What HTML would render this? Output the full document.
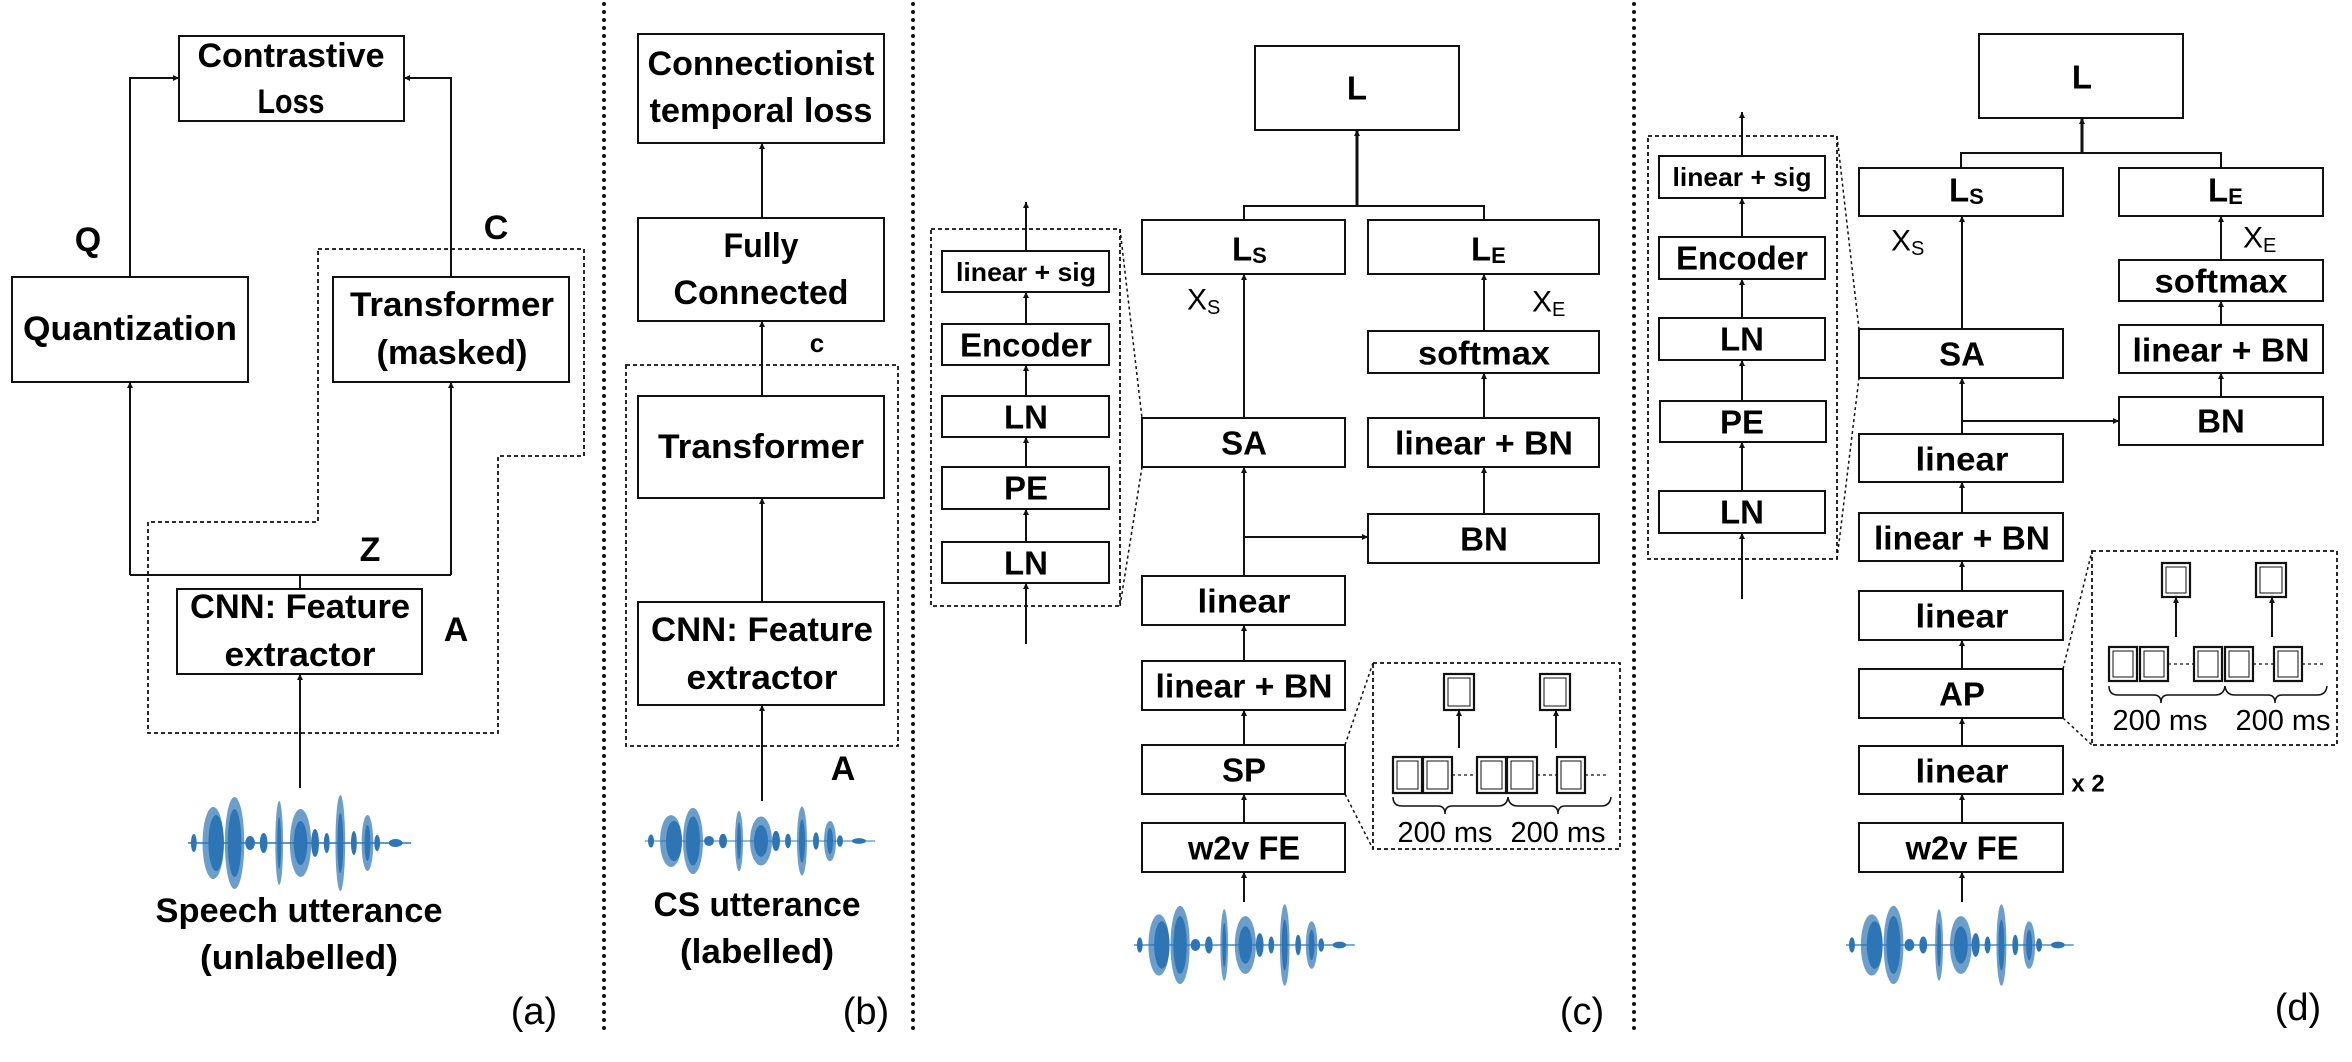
<!DOCTYPE html>
<html><head><meta charset="utf-8"><style>
html,body{margin:0;padding:0;background:#fff}
svg{display:block}
text{font-family:"Liberation Sans",sans-serif;fill:#000}
.b{font-weight:bold}
</style></head><body>
<svg width="2352" height="1062" viewBox="0 0 2352 1062" xmlns="http://www.w3.org/2000/svg">
<defs>
<marker id="ar" viewBox="0 0 10 10" refX="10" refY="5" markerWidth="6" markerHeight="6" orient="auto-start-reverse" markerUnits="userSpaceOnUse">
<path d="M0,0 L10,5 L0,10 z" fill="#111"/></marker>
<g id="wave">
<line x1="0" y1="0" x2="230" y2="0" stroke="#2E75B6" stroke-width="1.5"/>
<g fill="#2E75B6">
<ellipse cx="6" cy="0" rx="3" ry="9"/>
<ellipse cx="26" cy="0" rx="11" ry="36" opacity="0.7"/>
<ellipse cx="29" cy="0" rx="8" ry="28"/>
<ellipse cx="48" cy="0" rx="10" ry="46" opacity="0.7"/>
<ellipse cx="48" cy="0" rx="7" ry="34"/>
<ellipse cx="64" cy="0" rx="5" ry="7"/>
<ellipse cx="78" cy="0" rx="4" ry="10"/>
<ellipse cx="94" cy="0" rx="4" ry="42" opacity="0.7"/>
<ellipse cx="94" cy="0" rx="2" ry="26"/>
<ellipse cx="116" cy="0" rx="11" ry="34" opacity="0.7"/>
<ellipse cx="116" cy="0" rx="7" ry="22"/>
<ellipse cx="131" cy="0" rx="4" ry="14"/>
<ellipse cx="143" cy="0" rx="3" ry="10"/>
<ellipse cx="157" cy="0" rx="5" ry="48" opacity="0.7"/>
<ellipse cx="157" cy="0" rx="3" ry="30"/>
<ellipse cx="171" cy="0" rx="3" ry="12"/>
<ellipse cx="185" cy="0" rx="6" ry="28" opacity="0.7"/>
<ellipse cx="185" cy="0" rx="3" ry="18"/>
<ellipse cx="195" cy="0" rx="3" ry="8"/>
<ellipse cx="214" cy="0" rx="7" ry="4"/>
</g></g>
</defs>

<g stroke="#111" stroke-width="2" fill="none">
<line x1="604" y1="4" x2="604" y2="1035" stroke-width="4" stroke-dasharray="0 8" stroke-linecap="round"/>
<line x1="913" y1="4" x2="913" y2="1035" stroke-width="4" stroke-dasharray="0 8" stroke-linecap="round"/>
<line x1="1634" y1="4" x2="1634" y2="1035" stroke-width="4" stroke-dasharray="0 8" stroke-linecap="round"/>

<!-- Panel a -->
<rect x="179" y="36" width="225" height="85"/>
<rect x="12" y="277" width="236" height="105"/>
<rect x="333" y="277" width="236" height="105"/>
<rect x="177" y="589" width="245" height="85"/>
<polyline points="130,277 130,78 179,78" marker-end="url(#ar)"/>
<polyline points="451,277 451,78 404,78" marker-end="url(#ar)"/>
<polyline points="130,575 451,575"/>
<line x1="300" y1="589" x2="300" y2="575"/>
<line x1="130" y1="575" x2="130" y2="382" marker-end="url(#ar)"/>
<line x1="451" y1="575" x2="451" y2="382" marker-end="url(#ar)"/>
<line x1="300" y1="788" x2="300" y2="674" marker-end="url(#ar)"/>
<polygon points="318,249 584,249 584,456 498,456 498,733 148,733 148,522 318,522" stroke-dasharray="4 3" stroke-width="1.8"/>

<!-- Panel b -->
<rect x="638" y="34" width="246" height="109"/>
<rect x="638" y="218" width="246" height="103"/>
<rect x="638" y="396" width="246" height="102"/>
<rect x="638" y="602" width="246" height="103"/>
<rect x="626" y="365" width="272" height="381" stroke-dasharray="4 3" stroke-width="1.8"/>
<line x1="762" y1="218" x2="762" y2="143" marker-end="url(#ar)"/>
<line x1="762" y1="396" x2="762" y2="321" marker-end="url(#ar)"/>
<line x1="762" y1="602" x2="762" y2="498" marker-end="url(#ar)"/>
<line x1="762" y1="801" x2="762" y2="705" marker-end="url(#ar)"/>

<!-- Panel c -->
<rect x="1255" y="46" width="204" height="84"/>
<line x1="1357" y1="206" x2="1357" y2="130" stroke-width="3" marker-end="url(#ar)"/>
<polyline points="1244,220 1244,206 1484,206 1484,220"/>
<rect x="1142" y="220" width="203" height="54"/>
<rect x="1368" y="220" width="231" height="54"/>
<rect x="1142" y="418" width="203" height="49"/>
<rect x="1142" y="576" width="203" height="49"/>
<rect x="1142" y="661" width="203" height="49"/>
<rect x="1142" y="745" width="203" height="49"/>
<rect x="1142" y="823" width="203" height="49"/>
<rect x="1368" y="331" width="231" height="42"/>
<rect x="1368" y="418" width="231" height="49"/>
<rect x="1368" y="514" width="231" height="49"/>
<line x1="1244" y1="418" x2="1244" y2="274" marker-end="url(#ar)"/>
<line x1="1244" y1="576" x2="1244" y2="467" marker-end="url(#ar)"/>
<line x1="1244" y1="537" x2="1368" y2="537" marker-end="url(#ar)"/>
<line x1="1244" y1="661" x2="1244" y2="625" marker-end="url(#ar)"/>
<line x1="1244" y1="745" x2="1244" y2="710" marker-end="url(#ar)"/>
<line x1="1244" y1="823" x2="1244" y2="794" marker-end="url(#ar)"/>
<line x1="1244" y1="902" x2="1244" y2="872" marker-end="url(#ar)"/>
<line x1="1484" y1="331" x2="1484" y2="274" marker-end="url(#ar)"/>
<line x1="1484" y1="418" x2="1484" y2="373" marker-end="url(#ar)"/>
<line x1="1484" y1="514" x2="1484" y2="467" marker-end="url(#ar)"/>
<rect x="931" y="229" width="189" height="377" stroke-dasharray="4 3" stroke-width="1.8"/>
<rect x="942" y="251" width="167" height="41"/>
<rect x="942" y="324" width="167" height="41"/>
<rect x="942" y="396" width="167" height="41"/>
<rect x="942" y="467" width="167" height="42"/>
<rect x="942" y="542" width="167" height="41"/>
<line x1="1026" y1="251" x2="1026" y2="202" marker-end="url(#ar)"/>
<line x1="1026" y1="324" x2="1026" y2="292" marker-end="url(#ar)"/>
<line x1="1026" y1="396" x2="1026" y2="365" marker-end="url(#ar)"/>
<line x1="1026" y1="467" x2="1026" y2="437" marker-end="url(#ar)"/>
<line x1="1026" y1="542" x2="1026" y2="509" marker-end="url(#ar)"/>
<line x1="1026" y1="644" x2="1026" y2="583" marker-end="url(#ar)"/>
<line x1="1120" y1="229" x2="1142" y2="418" stroke-dasharray="3 3" stroke-width="1.5"/>
<line x1="1120" y1="606" x2="1142" y2="467" stroke-dasharray="3 3" stroke-width="1.5"/>
<rect x="1373" y="663" width="247" height="186" stroke-dasharray="4 3" stroke-width="1.8"/>
<line x1="1345" y1="745" x2="1373" y2="663" stroke-dasharray="3 3" stroke-width="1.5"/>
<line x1="1345" y1="794" x2="1373" y2="849" stroke-dasharray="3 3" stroke-width="1.5"/>
<g stroke-width="2.2">
<rect x="1444" y="674" width="30" height="36"/><rect x="1540" y="674" width="30" height="36"/>
<rect x="1393" y="757" width="29" height="36"/><rect x="1423" y="757" width="29" height="36"/>
<rect x="1477" y="757" width="29" height="36"/><rect x="1507" y="757" width="30" height="36"/>
<rect x="1557" y="757" width="28" height="36"/>
</g>
<g stroke-width="1">
<rect x="1448" y="678" width="22" height="28"/><rect x="1544" y="678" width="22" height="28"/>
<rect x="1397" y="761" width="21" height="28"/><rect x="1427" y="761" width="21" height="28"/>
<rect x="1481" y="761" width="21" height="28"/><rect x="1511" y="761" width="22" height="28"/>
<rect x="1561" y="761" width="20" height="28"/>
</g>
<line x1="1459" y1="748" x2="1459" y2="710" marker-end="url(#ar)"/>
<line x1="1556" y1="748" x2="1556" y2="710" marker-end="url(#ar)"/>
<g stroke-dasharray="3 3" stroke-width="1.2">
<line x1="1452" y1="775" x2="1477" y2="775"/><line x1="1537" y1="775" x2="1557" y2="775"/><line x1="1585" y1="775" x2="1607" y2="775"/>
</g>
<path d="M1393,797 q0,9 9,9 L1438,806 q7,0 7,8 q0,-8 7,-8 L1498,806 q9,0 10,-9" stroke-width="1.5"/>
<path d="M1508,797 q1,9 10,9 L1551,806 q7,0 7,8 q0,-8 7,-8 L1601,806 q9,0 10,-9" stroke-width="1.5"/>

<!-- Panel d -->
<rect x="1979" y="34" width="204" height="84"/>
<line x1="2082" y1="153" x2="2082" y2="118" stroke-width="3" marker-end="url(#ar)"/>
<polyline points="1961,168 1961,153 2221,153 2221,168"/>
<rect x="1859" y="168" width="204" height="48"/>
<rect x="2119" y="168" width="204" height="48"/>
<rect x="1859" y="329" width="204" height="49"/>
<rect x="1859" y="434" width="204" height="48"/>
<rect x="1859" y="513" width="204" height="48"/>
<rect x="1859" y="591" width="204" height="49"/>
<rect x="1859" y="669" width="204" height="49"/>
<rect x="1859" y="746" width="204" height="48"/>
<rect x="1859" y="823" width="204" height="49"/>
<rect x="2119" y="260" width="204" height="41"/>
<rect x="2119" y="325" width="204" height="48"/>
<rect x="2119" y="397" width="204" height="48"/>
<line x1="1962" y1="329" x2="1962" y2="216" marker-end="url(#ar)"/>
<line x1="1962" y1="434" x2="1962" y2="378" marker-end="url(#ar)"/>
<line x1="1962" y1="421" x2="2119" y2="421" marker-end="url(#ar)"/>
<line x1="1962" y1="513" x2="1962" y2="482" marker-end="url(#ar)"/>
<line x1="1962" y1="591" x2="1962" y2="561" marker-end="url(#ar)"/>
<line x1="1962" y1="669" x2="1962" y2="640" marker-end="url(#ar)"/>
<line x1="1962" y1="746" x2="1962" y2="718" marker-end="url(#ar)"/>
<line x1="1962" y1="823" x2="1962" y2="794" marker-end="url(#ar)"/>
<line x1="1962" y1="902" x2="1962" y2="872" marker-end="url(#ar)"/>
<line x1="2221" y1="260" x2="2221" y2="216" marker-end="url(#ar)"/>
<line x1="2221" y1="325" x2="2221" y2="301" marker-end="url(#ar)"/>
<line x1="2221" y1="397" x2="2221" y2="373" marker-end="url(#ar)"/>
<rect x="1648" y="136" width="189" height="423" stroke-dasharray="4 3" stroke-width="1.8"/>
<rect x="1659" y="156" width="166" height="42"/>
<rect x="1659" y="237" width="166" height="42"/>
<rect x="1659" y="318" width="166" height="42"/>
<rect x="1660" y="401" width="166" height="41"/>
<rect x="1659" y="491" width="166" height="42"/>
<line x1="1742" y1="156" x2="1742" y2="112" marker-end="url(#ar)"/>
<line x1="1742" y1="237" x2="1742" y2="198" marker-end="url(#ar)"/>
<line x1="1742" y1="318" x2="1742" y2="279" marker-end="url(#ar)"/>
<line x1="1742" y1="401" x2="1742" y2="360" marker-end="url(#ar)"/>
<line x1="1742" y1="491" x2="1742" y2="442" marker-end="url(#ar)"/>
<line x1="1742" y1="599" x2="1742" y2="533" marker-end="url(#ar)"/>
<line x1="1837" y1="136" x2="1859" y2="329" stroke-dasharray="3 3" stroke-width="1.5"/>
<line x1="1837" y1="559" x2="1859" y2="378" stroke-dasharray="3 3" stroke-width="1.5"/>
<rect x="2092" y="551" width="245" height="194" stroke-dasharray="4 3" stroke-width="1.8"/>
<line x1="2063" y1="669" x2="2092" y2="551" stroke-dasharray="3 3" stroke-width="1.5"/>
<line x1="2063" y1="718" x2="2092" y2="745" stroke-dasharray="3 3" stroke-width="1.5"/>
<g stroke-width="2.2">
<rect x="2162" y="563" width="28" height="34"/><rect x="2256" y="563" width="30" height="34"/>
<rect x="2109" y="647" width="28" height="34"/><rect x="2140" y="647" width="28" height="34"/>
<rect x="2194" y="647" width="28" height="34"/><rect x="2225" y="647" width="28" height="34"/>
<rect x="2274" y="647" width="28" height="34"/>
</g>
<g stroke-width="1">
<rect x="2166" y="567" width="20" height="26"/><rect x="2260" y="567" width="22" height="26"/>
<rect x="2113" y="651" width="20" height="26"/><rect x="2144" y="651" width="20" height="26"/>
<rect x="2198" y="651" width="20" height="26"/><rect x="2229" y="651" width="20" height="26"/>
<rect x="2278" y="651" width="20" height="26"/>
</g>
<line x1="2176" y1="637" x2="2176" y2="597" marker-end="url(#ar)"/>
<line x1="2272" y1="637" x2="2272" y2="597" marker-end="url(#ar)"/>
<g stroke-dasharray="3 3" stroke-width="1.2">
<line x1="2168" y1="664" x2="2194" y2="664"/><line x1="2253" y1="664" x2="2274" y2="664"/><line x1="2302" y1="664" x2="2325" y2="664"/>
</g>
<path d="M2109,686 q0,9 9,9 L2154,695 q7,0 7,8 q0,-8 7,-8 L2215,695 q9,0 10,-9" stroke-width="1.5"/>
<path d="M2225,686 q1,9 10,9 L2268,695 q7,0 7,8 q0,-8 7,-8 L2317,695 q9,0 10,-9" stroke-width="1.5"/>
</g>

<use href="#wave" transform="translate(188,843) scale(0.97,1.0)"/>
<use href="#wave" transform="translate(645,841) scale(1.0,0.72)"/>
<use href="#wave" transform="translate(1134,945) scale(0.96,0.85)"/>
<use href="#wave" transform="translate(1846,945) scale(0.99,0.85)"/>

<g class="b" font-size="34" text-anchor="middle" dominant-baseline="central">
<text x="291" y="56" textLength="187" lengthAdjust="spacingAndGlyphs">Contrastive</text>
<text x="291" y="102" textLength="67" lengthAdjust="spacingAndGlyphs">Loss</text>
<text x="130" y="329" textLength="214" lengthAdjust="spacingAndGlyphs">Quantization</text>
<text x="452" y="305" textLength="204" lengthAdjust="spacingAndGlyphs">Transformer</text>
<text x="452" y="353" textLength="151" lengthAdjust="spacingAndGlyphs">(masked)</text>
<text x="300" y="607" textLength="220" lengthAdjust="spacingAndGlyphs">CNN: Feature</text>
<text x="300" y="655" textLength="151" lengthAdjust="spacingAndGlyphs">extractor</text>
<text x="299" y="911" textLength="287" lengthAdjust="spacingAndGlyphs">Speech utterance</text>
<text x="299" y="958" textLength="198" lengthAdjust="spacingAndGlyphs">(unlabelled)</text>
<text x="88" y="240">Q</text>
<text x="496" y="228">C</text>
<text x="370" y="550">Z</text>
<text x="456" y="630">A</text>
<text x="761" y="64" textLength="227" lengthAdjust="spacingAndGlyphs">Connectionist</text>
<text x="761" y="111" textLength="223" lengthAdjust="spacingAndGlyphs">temporal loss</text>
<text x="761" y="246" textLength="75" lengthAdjust="spacingAndGlyphs">Fully</text>
<text x="761" y="293" textLength="175" lengthAdjust="spacingAndGlyphs">Connected</text>
<text x="761" y="447" textLength="206" lengthAdjust="spacingAndGlyphs">Transformer</text>
<text x="762" y="630" textLength="222" lengthAdjust="spacingAndGlyphs">CNN: Feature</text>
<text x="762" y="678" textLength="151" lengthAdjust="spacingAndGlyphs">extractor</text>
<text x="757" y="905" textLength="207" lengthAdjust="spacingAndGlyphs">CS utterance</text>
<text x="757" y="952" textLength="154" lengthAdjust="spacingAndGlyphs">(labelled)</text>
<text x="843" y="769">A</text>
<text x="817" y="343" font-size="26">c</text>
</g>
<g font-size="38" text-anchor="middle" dominant-baseline="central">
<text x="534" y="1012">(a)</text>
<text x="866" y="1012">(b)</text>
<text x="1582" y="1012">(c)</text>
<text x="2298" y="1008">(d)</text>
</g>

<g class="b" font-size="33" text-anchor="middle" dominant-baseline="central">
<text x="1357" y="88">L</text>
<text x="1244" y="443">SA</text>
<text x="1244" y="601" textLength="93" lengthAdjust="spacingAndGlyphs">linear</text>
<text x="1244" y="686" textLength="177" lengthAdjust="spacingAndGlyphs">linear + BN</text>
<text x="1244" y="770">SP</text>
<text x="1244" y="848" textLength="112" lengthAdjust="spacingAndGlyphs">w2v FE</text>
<text x="1484" y="353" textLength="132" lengthAdjust="spacingAndGlyphs">softmax</text>
<text x="1484" y="443" textLength="178" lengthAdjust="spacingAndGlyphs">linear + BN</text>
<text x="1484" y="539">BN</text>
<text x="1026" y="345" textLength="132" lengthAdjust="spacingAndGlyphs">Encoder</text>
<text x="1026" y="417">LN</text>
<text x="1026" y="488">PE</text>
<text x="1026" y="563">LN</text>
<text x="2082" y="77">L</text>
<text x="1962" y="354">SA</text>
<text x="1962" y="459" textLength="93" lengthAdjust="spacingAndGlyphs">linear</text>
<text x="1962" y="538" textLength="176" lengthAdjust="spacingAndGlyphs">linear + BN</text>
<text x="1962" y="616" textLength="93" lengthAdjust="spacingAndGlyphs">linear</text>
<text x="1962" y="694">AP</text>
<text x="1962" y="771" textLength="93" lengthAdjust="spacingAndGlyphs">linear</text>
<text x="1962" y="848" textLength="113" lengthAdjust="spacingAndGlyphs">w2v FE</text>
<text x="2221" y="281" textLength="133" lengthAdjust="spacingAndGlyphs">softmax</text>
<text x="2221" y="350" textLength="177" lengthAdjust="spacingAndGlyphs">linear + BN</text>
<text x="2221" y="421">BN</text>
<text x="1742" y="258" textLength="132" lengthAdjust="spacingAndGlyphs">Encoder</text>
<text x="1742" y="339">LN</text>
<text x="1742" y="422">PE</text>
<text x="1742" y="512">LN</text>
<text x="2088" y="784" font-size="24">x 2</text>
</g>
<g class="b" font-size="26" text-anchor="middle" dominant-baseline="central">
<text x="1026" y="272" textLength="140" lengthAdjust="spacingAndGlyphs">linear + sig</text>
<text x="1742" y="177" textLength="139" lengthAdjust="spacingAndGlyphs">linear + sig</text>
</g>
<g class="b" font-size="33" dominant-baseline="central">
<text x="1232" y="249">L<tspan font-size="22" dy="6">S</tspan></text>
<text x="1471" y="249">L<tspan font-size="22" dy="6">E</tspan></text>
<text x="1949" y="190">L<tspan font-size="22" dy="6">S</tspan></text>
<text x="2208" y="190">L<tspan font-size="22" dy="6">E</tspan></text>
</g>
<g font-size="30" dominant-baseline="central">
<text x="1187" y="300">X<tspan font-size="20" dy="8">S</tspan></text>
<text x="1532" y="302">X<tspan font-size="20" dy="8">E</tspan></text>
<text x="1891" y="241">X<tspan font-size="20" dy="8">S</tspan></text>
<text x="2243" y="238">X<tspan font-size="20" dy="8">E</tspan></text>
</g>
<g font-size="29" text-anchor="middle" dominant-baseline="central">
<text x="1445" y="833">200 ms</text>
<text x="1558" y="833">200 ms</text>
<text x="2160" y="721">200 ms</text>
<text x="2283" y="721">200 ms</text>
</g>
</svg>
</body></html>
